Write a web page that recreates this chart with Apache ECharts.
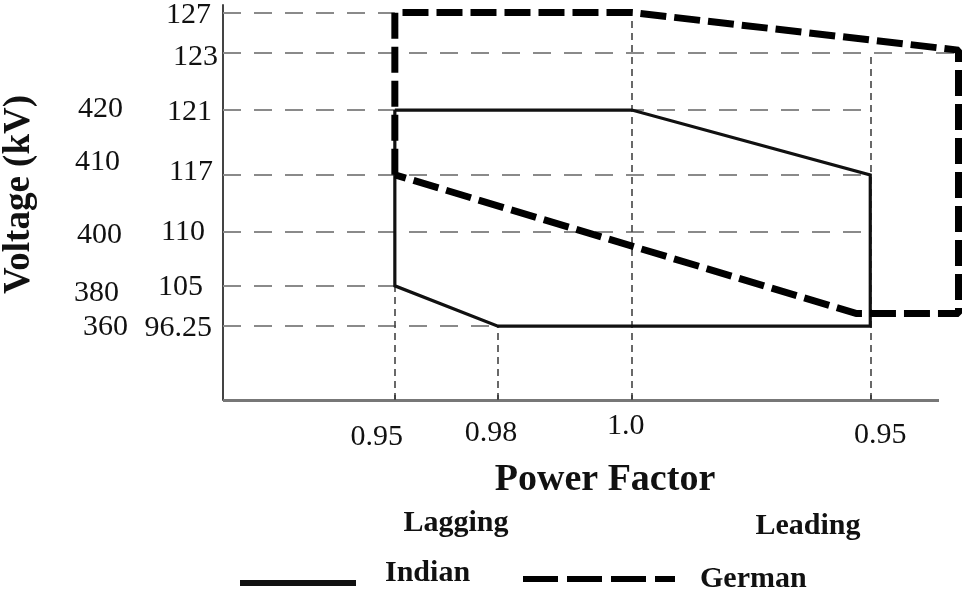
<!DOCTYPE html>
<html lang="en">
<head>
<meta charset="UTF-8">
<title>Voltage vs Power Factor</title>
<style>
    html, body { margin: 0; padding: 0; background: #fff; }
    #main { width: 969px; height: 592px; }
</style>
</head>
<body>
<div id="main"></div>
<script src="https://cdn.jsdelivr.net/npm/echarts@6/dist/echarts.min.js"></script>
<script>
    // power factor: lagging as negative offset from unity, leading as positive
    var pfTickLabels = ['0.95', '0.98', '1.0', '0.95'];
    var pfTickValues = [-0.05, -0.02, 0, 0.05];
    // voltage ticks on the 110 kV level, plus the 400 kV level labels
    var kvTickLabels = ['96.25', '105', '110', '117', '121', '123', '127'];
    var kvTickValues = [96.25, 105, 110, 117, 121, 123, 127];
    var hvTickLabels = ['420', '410', '400', '380', '360'];

    // Indian range (closed outline)
    var indianPF = [-0.05, 0, 0.05, 0.05, -0.02, -0.05, -0.05];
    var indianKV = [121, 121, 117, 96.25, 96.25, 105, 121];
    // German range (closed outline)
    var germanPF = [-0.05, -0.05, 0, 0.0685, 0.0685, 0.047, -0.05];
    var germanKV = [117, 127, 127, 123.3, 99, 99, 117];

    // how far the dashed guides run: right end for each kV tick, top for each pf tick
    var kvGuideTo = [0.05, -0.05, 0.05, 0.05, 0.05, 0.0685, -0.05];
    var pfGuideTo = [105, 96.25, 127.5, 123];

    // the drawing is a schematic: ticks are not evenly spaced, so the axes
    // run on a 0..100 scale and each tick sits at its own place on it
    var pfTickPos = [24.0, 38.4, 57.1, 90.4];
    var kvTickPos = [18.7, 28.9, 42.5, 57.0, 73.4, 87.8, 98.1];
    var hvTickPos = [74.2, 60.8, 42.3, 27.6, 19.0];
    var X_AXIS_END = 100;   // where the drawn axis line stops
    var X_MAX = 104;        // room for the German outline past the axis end

    function piecewise(v, from, to) {
        var n = from.length, i = 0;
        if (v >= from[n - 1]) {
            i = n - 2;
        } else if (v > from[0]) {
            while (v > from[i + 1]) i++;
        }
        var t = (v - from[i]) / (from[i + 1] - from[i]);
        return to[i] + t * (to[i + 1] - to[i]);
    }
    function pfPos(v) { return piecewise(v, pfTickValues, pfTickPos); }
    function kvPos(v) { return piecewise(v, kvTickValues, kvTickPos); }
    function outline(pf, kv) {
        return pf.map(function (p, i) { return [pfPos(p), kvPos(kv[i])]; });
    }
    function indexOfPos(arr, v) {
        for (var i = 0; i < arr.length; i++) {
            if (Math.abs(arr[i] - v) < 1e-6) return i;
        }
        return -1;
    }

    var FONT = 'Liberation Serif, Times New Roman, serif';
    var INK = '#111';

    var hGuide = {color: '#8a8a8a', width: 2, type: [18, 13]};
    var vGuide = {color: '#444', width: 1.6, type: [7, 5]};
    var baseLine = {color: '#777', width: 3, type: 'solid'};
    var guides = [
        [{coord: [0, 0], lineStyle: baseLine}, {coord: [X_AXIS_END, 0]}]
    ];
    kvTickValues.forEach(function (v, i) {
        guides.push([
            {coord: [0, kvPos(v)], lineStyle: hGuide},
            {coord: [pfPos(kvGuideTo[i]), kvPos(v)]}
        ]);
    });
    pfTickValues.forEach(function (p, i) {
        guides.push([
            {coord: [pfPos(p), 0], lineStyle: vGuide},
            {coord: [pfPos(p), kvPos(pfGuideTo[i])]}
        ]);
    });

    // per-label nudges [top, right, bottom, left], matching the original layout
    var pfLabelPad = [[11, 36, 0, 0], [7, 14, 0, 0], [0, 12, 0, 0], [9, 0, 0, 20]];
    var kvLabelPad = [[4, 6, 0, 0], [2, 15, 0, 0], [0, 13, 0, 0], [0, 5, 6, 0], [4, 6, 0, 0], [8, 0, 0, 0], [6, 7, 0, 0]];
    var hvLabelPad = [[5, 5, 0, 0], [4, 8, 0, 0], [4, 6, 0, 0], [5, 9, 0, 0], [4, 0, 0, 0]];

    function richFor(pads, size) {
        var r = {};
        pads.forEach(function (p, i) {
            r['t' + i] = {fontFamily: FONT, fontSize: size, color: INK, padding: p};
        });
        return r;
    }

    var legendText = {
        fontFamily: FONT, fontSize: 30, fontWeight: 'bold', color: INK,
        rich: {
            a: {fontFamily: FONT, fontSize: 30, fontWeight: 'bold', color: INK, lineHeight: 30},
            s: {fontSize: 10, lineHeight: 20}
        }
    };

    var myChart = echarts.init(document.getElementById('main'));
    var option = {
        animation: false,
        backgroundColor: '#fff',
        grid: {
            left: 223, top: 5, bottom: 192,
            right: 969 - 223 - 7.16 * X_MAX,
            containLabel: false, outerBoundsMode: 'none'
        },
        xAxis: {
            type: 'value',
            min: 0,
            max: X_MAX,
            name: 'Power Factor',
            nameLocation: 'start',
            nameGap: 0,
            nameTextStyle: {
                fontFamily: FONT, fontSize: 38, fontWeight: 'bold', color: INK,
                align: 'center', verticalAlign: 'top', padding: [61, 0, 0, 764]
            },
            axisLine: {show: false},
            axisTick: {show: true, inside: true, length: 5, customValues: pfTickPos, lineStyle: {color: '#333', width: 2}},
            axisLabel: {
                show: true,
                customValues: pfTickPos,
                margin: 11,
                formatter: function (v) {
                    var i = indexOfPos(pfTickPos, v);
                    return i < 0 ? '' : '{t' + i + '|' + pfTickLabels[i] + '}';
                },
                rich: richFor(pfLabelPad, 30)
            },
            splitLine: {show: false}
        },
        yAxis: [
            {
                type: 'value',
                min: 0,
                max: 100,
                position: 'left',
                name: 'Voltage (kV)',
                nameLocation: 'middle',
                nameRotate: 90,
                nameGap: 185,
                nameTextStyle: {fontFamily: FONT, fontSize: 37, fontWeight: 'bold', color: INK, padding: [0, 0, 0, 16]},
                axisLine: {show: true, lineStyle: {color: '#444', width: 2}},
                axisTick: {show: false},
                axisLabel: {
                    show: true,
                    customValues: kvTickValues.map(kvPos),
                    margin: 5,
                    formatter: function (v) {
                        var i = indexOfPos(kvTickPos, v);
                        return i < 0 ? '' : '{t' + i + '|' + kvTickLabels[i] + '}';
                    },
                    rich: richFor(kvLabelPad, 30)
                },
                splitLine: {show: false}
            },
            {
                type: 'value',
                min: 0,
                max: 100,
                position: 'left',
                offset: 95,
                axisLine: {show: false},
                axisTick: {show: false},
                axisLabel: {
                    show: true,
                    customValues: hvTickPos,
                    margin: 0,
                    formatter: function (v) {
                        var i = indexOfPos(hvTickPos, v);
                        return i < 0 ? '' : '{t' + i + '|' + hvTickLabels[i] + '}';
                    },
                    rich: richFor(hvLabelPad, 30)
                },
                splitLine: {show: false}
            }
        ],
        legend: [
            {
                data: ['Indian'],
                selectedMode: false,
                left: 237,
                top: 558,
                padding: 0,
                itemWidth: 116,
                itemHeight: 14,
                itemGap: 0,
                itemStyle: {opacity: 0},
                lineStyle: {width: 6, color: INK},
                // the name sits above the line, so pad the text block below
                formatter: function (name) { return '{a|' + name + '}\n{s| }'; },
                textStyle: Object.assign({padding: [0, 0, 0, 24]}, legendText)
            },
            {
                data: ['German'],
                selectedMode: false,
                left: 520,
                top: 564,
                padding: 0,
                itemWidth: 152,
                itemHeight: 14,
                itemStyle: {opacity: 0},
                lineStyle: {width: 6, color: '#000', type: [35, 9]},
                formatter: function (name) { return '{a|' + name + '}'; },
                textStyle: Object.assign({padding: [0, 0, 0, 20]}, legendText)
            }
        ],
        graphic: [
            {
                type: 'text', x: 456, y: 523,
                style: {text: 'Lagging', fontFamily: FONT, fontSize: 30, fontWeight: 'bold', fill: INK,
                    textAlign: 'center', textVerticalAlign: 'middle'}
            },
            {
                type: 'text', x: 808, y: 526,
                style: {text: 'Leading', fontFamily: FONT, fontSize: 30, fontWeight: 'bold', fill: INK,
                    textAlign: 'center', textVerticalAlign: 'middle'}
            }
        ],
        series: [
            {
                name: 'guides',
                type: 'line',
                data: [],
                z: 1,
                silent: true,
                markLine: {
                    silent: true,
                    z: 1,
                    symbol: ['none', 'none'],
                    label: {show: false},
                    animation: false,
                    data: guides
                }
            },
            {
                name: 'Indian',
                type: 'line',
                data: outline(indianPF, indianKV),
                symbol: 'none',
                z: 3,
                itemStyle: {color: INK},
                lineStyle: {color: INK, width: 3.2, join: 'miter'}
            },
            {
                name: 'German',
                type: 'line',
                data: outline(germanPF, germanKV),
                symbol: 'none',
                z: 4,
                itemStyle: {color: '#000'},
                lineStyle: {color: '#000', width: 7, type: [26, 8], cap: 'butt'}
            }
        ]
    };
    myChart.setOption(option);
</script>
</body>
</html>
